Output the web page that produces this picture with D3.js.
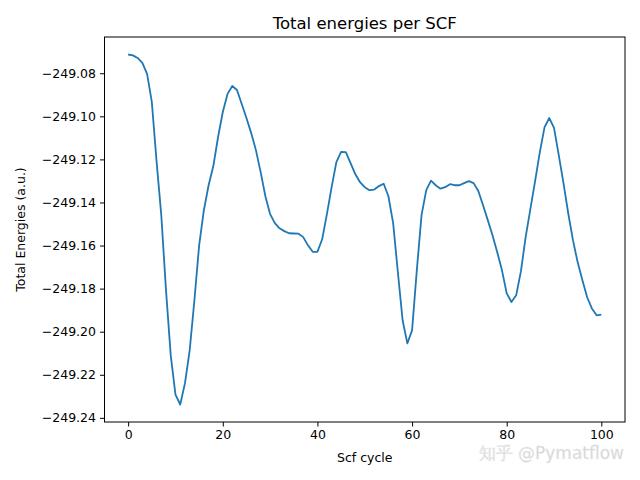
<!DOCTYPE html>
<html>
<head>
<meta charset="utf-8">
<script src="https://cdn.jsdelivr.net/npm/d3@7"></script>
<style>
  body { margin: 0; background: #fff; }
  svg { display: block; }
  text { font-family: "DejaVu Sans", sans-serif; }
</style>
</head>
<body>
<svg id="chart" width="640" height="480"></svg>
<script>
const cycles = d3.range(0, 101);
const energies = [
  -249.0713, -249.0717, -249.0729, -249.0752, -249.0803, -249.0933, -249.1208, -249.1459, -249.1808, -249.2110,
  -249.2292, -249.2338, -249.2240, -249.2087, -249.1854, -249.1599, -249.1436, -249.1320, -249.1231, -249.1096,
  -249.0980, -249.0896, -249.0859, -249.0878, -249.0943, -249.1008, -249.1078, -249.1157, -249.1259, -249.1371,
  -249.1454, -249.1496, -249.1520, -249.1533, -249.1543, -249.1544, -249.1545, -249.1561, -249.1599, -249.1629,
  -249.1629, -249.1571, -249.1454, -249.1329, -249.1213, -249.1165, -249.1166, -249.1217, -249.1268, -249.1306,
  -249.1329, -249.1343, -249.1340, -249.1324, -249.1313, -249.1371, -249.1496, -249.1724, -249.1947, -249.2054,
  -249.1994, -249.1715, -249.1459, -249.1343, -249.1299, -249.1320, -249.1336, -249.1329, -249.1315, -249.1320,
  -249.1320, -249.1310, -249.1301, -249.1310, -249.1347, -249.1413, -249.1482, -249.1552, -249.1631, -249.1715,
  -249.1822, -249.1862, -249.1831, -249.1720, -249.1561, -249.1431, -249.1301, -249.1166, -249.1050, -249.1008,
  -249.1054, -249.1180, -249.1310, -249.1450, -249.1575, -249.1678, -249.1761, -249.1840, -249.1892, -249.1924,
  -249.1921
];
const xTicks = [0, 20, 40, 60, 80, 100];
const yTicks = [-249.24, -249.22, -249.20, -249.18, -249.16, -249.14, -249.12, -249.10, -249.08];
const titleText = "Total energies per SCF";
const xLabel = "Scf cycle";
const yLabel = "Total Energies (a.u.)";
const watermark = "知乎 @Pymatflow";

const svg = d3.select("#chart");
const L = 104.5, R = 625, T = 37, B = 422;

const xExt = d3.extent(cycles), xPad = (xExt[1] - xExt[0]) * 0.05;
const yExt = d3.extent(energies), yPad = (yExt[1] - yExt[0]) * 0.05;
const x = d3.scaleLinear().domain([xExt[0] - xPad, xExt[1] + xPad]).range([L, R]);
const y = d3.scaleLinear().domain([yExt[0] - yPad, yExt[1] + yPad]).range([B, T]);

const fmtY = v => d3.format(".2f")(v).replace("-", "\u2212");

// line
svg.append("path")
  .datum(cycles.map((c, i) => [c, energies[i]]))
  .attr("fill", "none")
  .attr("stroke", "#1f77b4")
  .attr("stroke-width", 1.8)
  .attr("stroke-linejoin", "round")
  .attr("d", d3.line().x(d => x(d[0])).y(d => y(d[1])));

// axes
const xAxis = d3.axisBottom(x).tickValues(xTicks).tickSize(4.5).tickPadding(4).tickFormat(d3.format("d"));
const yAxis = d3.axisLeft(y).tickValues(yTicks).tickSize(4.5).tickPadding(4).tickFormat(fmtY);

const gx = svg.append("g").attr("transform", `translate(0,${B})`).call(xAxis);
const gy = svg.append("g").attr("transform", `translate(${L},0)`).call(yAxis);
[gx, gy].forEach(g => {
  g.select(".domain").remove();
  g.selectAll("line").attr("stroke", "#000").attr("stroke-width", 1);
  g.selectAll("text").attr("font-family", "DejaVu Sans").attr("font-size", 12.5).attr("fill", "#000");
});

// frame
svg.append("rect")
  .attr("x", L).attr("y", T).attr("width", R - L).attr("height", B - T)
  .attr("fill", "none").attr("stroke", "#000").attr("stroke-width", 1);

// title & labels
svg.append("text").attr("x", (L + R) / 2).attr("y", 29)
  .attr("text-anchor", "middle").attr("font-size", 16.5).text(titleText);
svg.append("text").attr("x", (L + R) / 2).attr("y", 462)
  .attr("text-anchor", "middle").attr("font-size", 12.5).text(xLabel);
svg.append("text").attr("transform", `translate(25,${(T + B) / 2}) rotate(-90)`)
  .attr("text-anchor", "middle").attr("font-size", 12.5).text(yLabel);

// watermark
svg.append("text").attr("x", 624).attr("y", 459)
  .attr("text-anchor", "end").attr("font-size", 17)
  .attr("font-family", "Noto Sans CJK SC, DejaVu Sans")
  .attr("fill", "#d0d0d0").attr("stroke", "#eeeeee").attr("stroke-width", 0.5)
  .text(watermark);
</script>
</body>
</html>
